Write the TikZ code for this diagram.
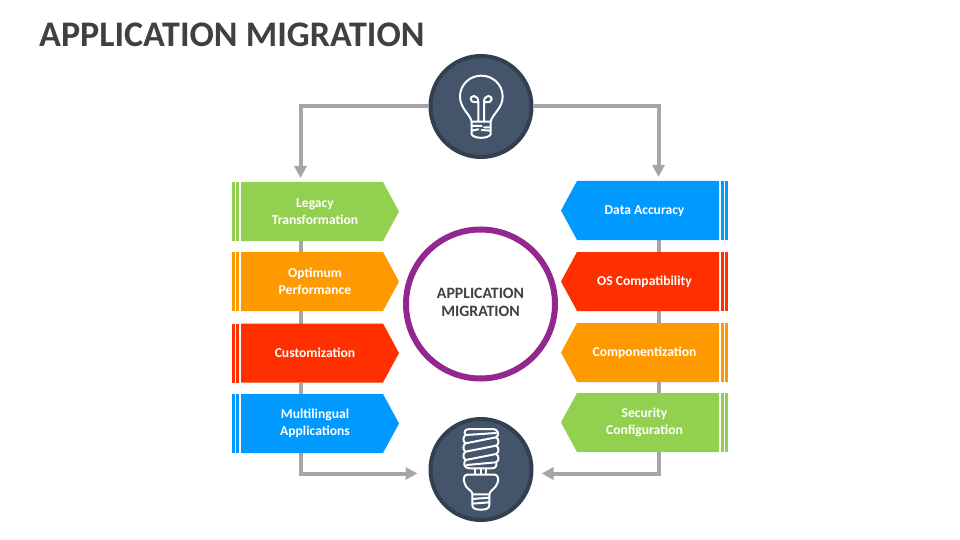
\documentclass[tikz,border=0pt]{standalone}
\usepackage{fontspec}
\setmainfont{Carlito}
\usetikzlibrary{arrows.meta}
\definecolor{cgreen}{HTML}{92D050}
\definecolor{corange}{HTML}{FF9900}
\definecolor{cred}{HTML}{FF2F00}
\definecolor{cblue}{HTML}{0099FF}
\definecolor{cpurple}{HTML}{93278F}
\definecolor{cgray}{HTML}{A6A6A6}
\definecolor{cnavy}{HTML}{44546A}
\definecolor{cedge}{HTML}{323F4F}
\definecolor{cdark}{HTML}{404040}
\tikzset{
  x=1pt,y=-1pt,
  labeltext/.style={text=white,font=\fontsize{13.6}{17}\selectfont\bfseries,align=center,inner sep=0pt},
  boxnode/.style={minimum width=167pt,minimum height=59pt,inner sep=0pt,outer sep=0pt},
  wire/.style={draw=cgray,line width=4pt},
  tip/.style={-{Triangle[length=12pt,width=12pt]}},
  iconcircle/.style={circle,fill=cnavy,draw=cedge,line width=4pt,minimum size=101pt,inner sep=0pt,outer sep=2pt},
  iconline/.style={draw=white,line width=2pt,line cap=round,line join=round},
}
\newcommand{\leftbox}[4]{
  \fill[#2] (232,#3) rectangle (234.6,#3+59);
  \fill[#2] (236,#3) rectangle (239.2,#3+59);
  \fill[#2] (241,#3) -- (383,#3) -- (399,#3+29.5) -- (383,#3+59) -- (241,#3+59) -- cycle;
  \node[labeltext] (#1) at (315,#3+29.3) {#4};
}
\newcommand{\rightbox}[4]{
  \fill[#2] (728,#3) rectangle (725.4,#3+59);
  \fill[#2] (724,#3) rectangle (720.8,#3+59);
  \fill[#2] (719,#3) -- (577,#3) -- (561,#3+29.5) -- (577,#3+59) -- (719,#3+59) -- cycle;
  \node[labeltext] (#1) at (644.5,#3+29.8) {#4};
}
\begin{document}
\begin{tikzpicture}
\useasboundingbox (0,0) rectangle (960,540);
\fill[white] (0,0) rectangle (960,540);
\node[anchor=west,inner sep=0pt,text=cdark,font=\fontsize{36}{38}\selectfont\bfseries] (title) at (39,34.7) {APPLICATION MIGRATION};

\node[iconcircle] (top) at (481,106.5) {};
\node[iconcircle] (bot) at (481,469.5) {};
\node[circle,draw=cpurple,line width=6pt,fill=white,minimum size=149pt,inner sep=0pt,outer sep=3pt] (hub) at (480.5,304) {};
\node[align=center,inner sep=0pt,text=cdark,font=\fontsize{15.8}{18.5}\selectfont\bfseries] (hubtext) at (480.5,302.5) {APPLICATION\\MIGRATION};

\node[boxnode] (l1) at (315.5,211.5) {};
\node[boxnode] (l2) at (315.5,281.5) {};
\node[boxnode] (l3) at (315.5,353) {};
\node[boxnode] (l4) at (315.5,423.5) {};
\node[boxnode] (r1) at (644.5,210.5) {};
\node[boxnode] (r2) at (644.5,281.5) {};
\node[boxnode] (r3) at (644.5,352.5) {};
\node[boxnode] (r4) at (644.5,422.5) {};

\draw[wire,tip,shorten >=4pt] (top.west) -| ([xshift=-15pt]l1.north);
\draw[wire] ([xshift=-15pt]l1.south) -- ([xshift=-15pt]l2.north);
\draw[wire] ([xshift=-15pt]l2.south) -- ([xshift=-15pt]l3.north);
\draw[wire] ([xshift=-15pt]l3.south) -- ([xshift=-15pt]l4.north);
\draw[wire,tip,shorten >=11pt] ([xshift=-15pt]l4.south) |- ([yshift=-4pt]bot.west);
\draw[wire,tip,shorten >=4pt] (top.east) -| ([xshift=14pt]r1.north);
\draw[wire] ([xshift=14pt]r1.south) -- ([xshift=14pt]r2.north);
\draw[wire] ([xshift=14pt]r2.south) -- ([xshift=14pt]r3.north);
\draw[wire] ([xshift=14pt]r3.south) -- ([xshift=14pt]r4.north);
\draw[wire,tip,shorten >=8pt] ([xshift=14pt]r4.south) |- ([yshift=-4pt]bot.east);

\leftbox{la}{cgreen}{182}{Legacy\\Transformation}
\leftbox{lb}{corange}{252}{Optimum\\Performance}
\leftbox{lc}{cred}{323.5}{Customization}
\leftbox{ld}{cblue}{394}{Multilingual\\Applications}
\rightbox{ra}{cblue}{181}{Data Accuracy}
\rightbox{rb}{cred}{252}{OS Compatibility}
\rightbox{rc}{corange}{323}{Componentization}
\rightbox{rd}{cgreen}{393}{Security\\Configuration}

\begin{scope}[shift={(410,40)},x=0.3333pt,y=-0.3333pt]
  \path[iconline] (185,245) .. controls (180,222) and (150,205) .. (150,170)
     .. controls (150,133) and (180,107) .. (214,107)
     .. controls (248,107) and (278,133) .. (278,170)
     .. controls (278,205) and (247,222) .. (242,245);
  \path[iconline] (205,245) -- (205,186) .. controls (205,176) and (200,168) .. (192,168)
     .. controls (185,168) and (182,173) .. (182,178) .. controls (182,184) and (187,188) .. (205,186);
  \path[iconline] (222,245) -- (222,186) .. controls (222,176) and (227,168) .. (235,168)
     .. controls (242,168) and (245,173) .. (245,178) .. controls (245,184) and (240,188) .. (222,186);
  \path[iconline] (185,245) -- (242,245) -- (242,283) .. controls (235,297) and (192,297) .. (185,283) -- cycle;
  \path[iconline] (185,258) -- (215,258) (222,262) -- (242,262) (185,272) -- (205,268) (215,270) -- (242,272);
\end{scope}
\begin{scope}[shift={(410,405)},x=0.3333pt,y=-0.3333pt]
  \path[iconline] (178,72) -- (246,72) .. controls (268,72) and (268,92) .. (258,97)
     .. controls (268,102) and (268,118) .. (258,122) .. controls (268,127) and (268,143) .. (258,147)
     .. controls (268,152) and (268,168) .. (258,172) .. controls (262,180) and (258,190) .. (246,190)
     -- (178,190) .. controls (160,190) and (160,172) .. (167,165)
     .. controls (158,160) and (158,145) .. (167,140) .. controls (158,135) and (158,120) .. (167,115)
     .. controls (158,110) and (158,95) .. (167,90) .. controls (160,82) and (165,72) .. (178,72) -- cycle;
  \path[iconline] (167,90) -- (258,84) (167,115) -- (258,97) (167,140) -- (258,122) (167,165) -- (258,147) (170,180) -- (258,172);
  \path[iconline] (196,192) -- (196,208) (212,190) -- (212,208) (228,190) -- (228,208);
  \path[iconline] (172,209) -- (254,209) .. controls (266,209) and (266,226) .. (262,235)
     .. controls (257,252) and (240,255) .. (238,268) -- (188,268) .. controls (186,255) and (168,252) .. (164,235)
     .. controls (160,226) and (160,209) .. (172,209) -- cycle;
  \path[iconline] (187,268) -- (187,300) .. controls (187,310) and (195,314) .. (212,314)
     .. controls (230,314) and (238,310) .. (238,300) -- (238,268);
  \path[iconline] (187,282) -- (238,278) (187,296) -- (238,292);
\end{scope}
\end{tikzpicture}
\end{document}
